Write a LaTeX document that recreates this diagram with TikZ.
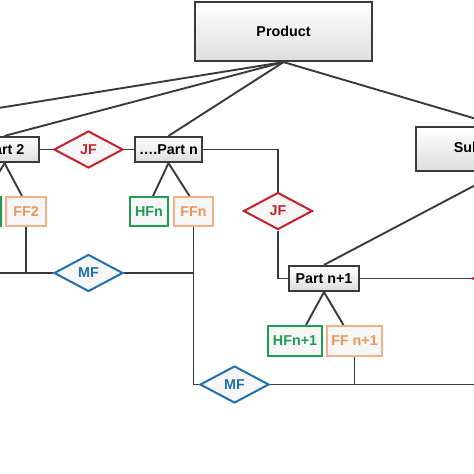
\documentclass[tikz,border=0pt]{standalone}
\usepackage{fontspec}
\setmainfont{Liberation Sans}
\usetikzlibrary{shapes.geometric,calc,backgrounds}
\definecolor{lnc}{HTML}{3A3A3A}
\definecolor{jfred}{HTML}{C8202A}
\definecolor{hfgreen}{HTML}{1E9E55}
\definecolor{ffor}{HTML}{F2B083}
\definecolor{fftext}{HTML}{E8965A}
\definecolor{mfblue}{HTML}{1F70B0}
\definecolor{boxfill}{HTML}{F6F6F6}
\tikzset{
  lbl/.style={font=\fontsize{14.3}{16}\selectfont\bfseries},
  partbox/.style={lbl, draw=lnc, line width=2.2pt, rectangle, inner sep=0pt,
     top color=white, bottom color=black!13, text=black},
  hfbox/.style={lbl, draw=hfgreen, line width=2pt, fill=boxfill, text=hfgreen, inner sep=0pt},
  ffbox/.style={lbl, draw=ffor, line width=2pt, fill=boxfill, text=fftext, inner sep=0pt},
  jfdia/.style={lbl, diamond, draw=jfred, line width=2pt, fill=boxfill, text=jfred, inner sep=0pt,
     minimum width=69pt, minimum height=37pt, aspect=1.86},
  mfdia/.style={lbl, diamond, draw=mfblue, line width=2pt, fill=boxfill, text=mfblue, inner sep=0pt,
     minimum width=69pt, minimum height=37pt, aspect=1.86},
  conn/.style={draw=lnc, line width=1.9pt}
}
\begin{document}
\begin{tikzpicture}[x=1pt,y=-1pt]
\useasboundingbox (0,0) rectangle (474,474);
\clip (0,0) rectangle (474,474);

% nodes
\node[partbox, minimum width=177pt, minimum height=59pt] (product) at (283.5,31.5) {Product};
\node[partbox, minimum width=69pt, minimum height=25pt] (part2) at (4.5,149.5) {Part 2};
\node[partbox, minimum width=67pt, minimum height=25pt] (partn) at (168.5,149.5) {….Part n};
\node[partbox, minimum width=70pt, minimum height=25pt] (partn1) at (324,278.5) {Part n+1};
\node[partbox, minimum width=168pt, minimum height=44pt] (sub) at (500,149) {Subassembly};

\node[jfdia] (jf1) at (88.5,149.5) {JF};
\node[jfdia] (jf2) at (278,211) {JF};
\node[jfdia] (jf3) at (507,278.5) {JF};
\node[mfdia] (mf1) at (88.5,273) {MF};
\node[mfdia] (mf2) at (234.5,384.5) {MF};

\node[hfbox, minimum width=39pt, minimum height=29pt] (hf2) at (-18.5,211.5) {HF2};
\node[ffbox, minimum width=40pt, minimum height=29pt] (ff2) at (26,211.5) {FF2};
\node[hfbox, minimum width=38pt, minimum height=29pt] (hfn) at (149,211.5) {HFn};
\node[ffbox, minimum width=39pt, minimum height=29pt] (ffn) at (193.5,211.5) {FFn};
\node[hfbox, minimum width=54pt, minimum height=30pt] (hfn1) at (295,341) {HFn+1};
\node[ffbox, minimum width=55pt, minimum height=30pt] (ffn1) at (354.5,341) {FF n+1};

\coordinate (p1) at (-200,140);
\coordinate (lstart) at (-60,273);
\coordinate (rend) at (560,384.5);

\begin{pgfonlayer}{background}
\fill[white] (0,0) rectangle (474,474);
\draw[conn] (product.south) -- (p1);
\draw[conn] (product.south) -- (part2.north);
\draw[conn] (product.south) -- (partn.north);
\draw[conn] (product.south) -- (sub.north);

\draw[conn] (part2.east) -- (jf1.west);
\draw[conn] (jf1.east) -- (partn.west);
\draw[conn] (partn.east) -| (jf2.north);
\draw[conn] (jf2.south) |- (partn1.west);
\draw[conn] (partn1.north) -- (sub.south);
\draw[conn] (partn1.east) -- (jf3.west);

\draw[conn] (part2.south) -- ($(ff2.north)+(-4,0)$);
\draw[conn] (part2.south) -- ($(hf2.north)+(4,0)$);
\draw[conn] (partn.south) -- ($(hfn.north)+(4,0)$);
\draw[conn] (partn.south) -- ($(ffn.north)+(-4,0)$);
\draw[conn] (partn1.south) -- ($(hfn1.north)+(11,0)$);
\draw[conn] (partn1.south) -- ($(ffn1.north)+(-11,0)$);

\draw[conn] (lstart) -- (mf1.west);
\draw[conn] (ff2.south) -- (ff2.south |- mf1.west);
\draw[conn] (mf1.east) -- (ffn.south |- mf1.east);
\draw[conn] (ffn.south) |- (mf2.west);
\draw[conn] (mf2.east) -- (rend);
\draw[conn] (ffn1.south) -- (ffn1.south |- mf2.east);
\end{pgfonlayer}
\end{tikzpicture}
\end{document}
